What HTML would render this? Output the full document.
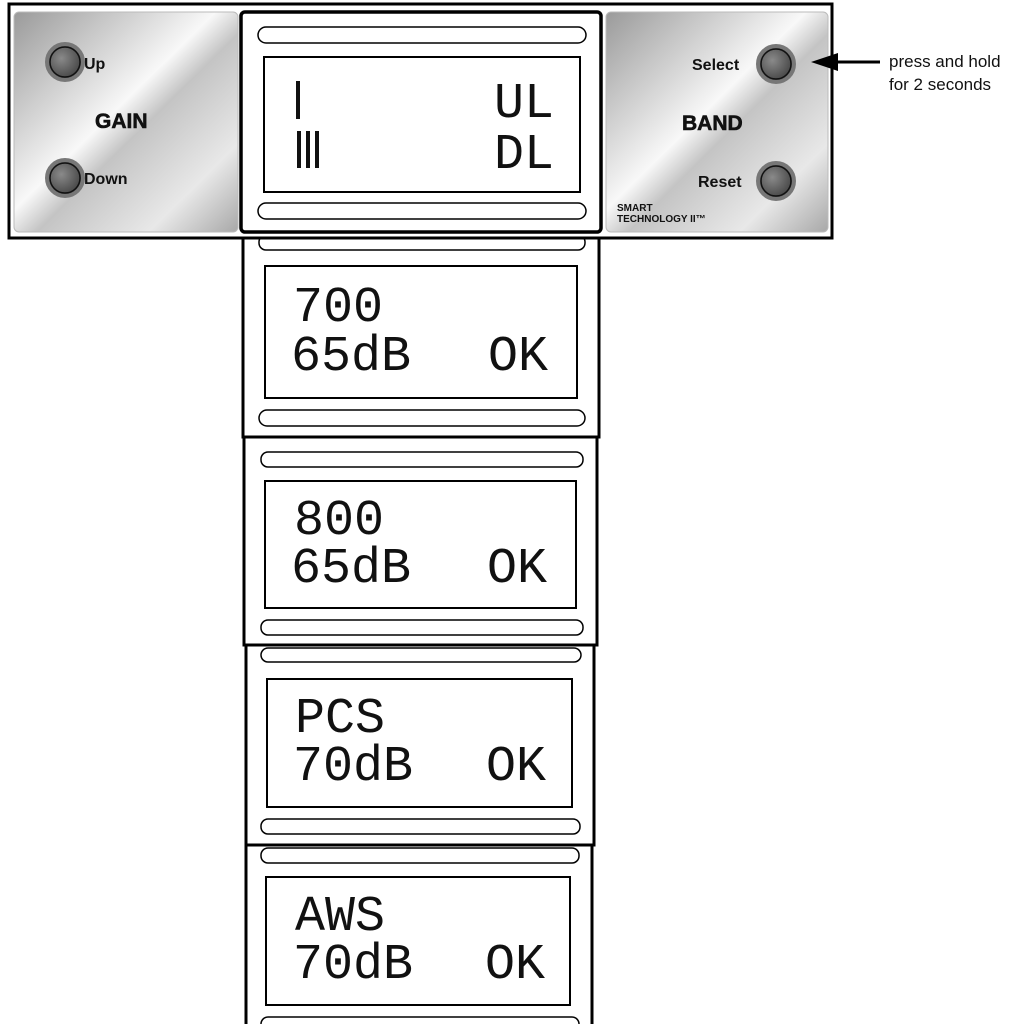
<!DOCTYPE html>
<html><head><style>
html,body{margin:0;padding:0;background:#fff;width:1024px;height:1024px;overflow:hidden}
</style></head><body>
<svg width="1024" height="1024" viewBox="0 0 1024 1024" xmlns="http://www.w3.org/2000/svg">
<defs>
<linearGradient id="met" x1="0" y1="0" x2="1" y2="1">
<stop offset="0" stop-color="#9a9a9a"/>
<stop offset="0.3" stop-color="#d8d8d8"/>
<stop offset="0.45" stop-color="#f8f8f8"/>
<stop offset="0.55" stop-color="#c4c4c4"/>
<stop offset="0.8" stop-color="#e8e8e8"/>
<stop offset="1" stop-color="#a8a8a8"/>
</linearGradient>
<radialGradient id="btn" cx="0.4" cy="0.4" r="0.6">
<stop offset="0" stop-color="#8a8a8a"/>
<stop offset="1" stop-color="#444"/>
</radialGradient>
</defs>
<g font-family="Liberation Sans, sans-serif">
<g fill="#fff" stroke="#000">
<rect x="243" y="232" width="356" height="205" stroke-width="3"/>
<rect x="244" y="437" width="353" height="208" stroke-width="3"/>
<rect x="246" y="645" width="348" height="200" stroke-width="3"/>
<rect x="246" y="845" width="346" height="190" stroke-width="3"/>
</g>
<g fill="#fff" stroke="#000" stroke-width="1.5">
<rect x="259" y="235" width="326" height="15" rx="7"/>
<rect x="265" y="266" width="312" height="132" stroke-width="2"/>
<rect x="259" y="410" width="326" height="16" rx="8"/>
<rect x="261" y="452" width="322" height="15" rx="7"/>
<rect x="265" y="481" width="311" height="127" stroke-width="2"/>
<rect x="261" y="620" width="322" height="15" rx="7"/>
<rect x="261" y="648" width="320" height="14" rx="7"/>
<rect x="267" y="679" width="305" height="128" stroke-width="2"/>
<rect x="261" y="819" width="319" height="15" rx="7"/>
<rect x="261" y="848" width="318" height="15" rx="7"/>
<rect x="266" y="877" width="304" height="128" stroke-width="2"/>
<rect x="261" y="1017" width="318" height="15" rx="7"/>
</g>
<g font-family="Liberation Mono, monospace" font-size="50" fill="#111">
<text x="293" y="321">700</text><text x="291" y="370">65dB</text><text x="488" y="370">OK</text>
<text x="294" y="534">800</text><text x="291" y="582">65dB</text><text x="487" y="582">OK</text>
<text x="295" y="732">PCS</text><text x="293" y="780">70dB</text><text x="486" y="780">OK</text>
<text x="295" y="930">AWS</text><text x="293" y="978">70dB</text><text x="485" y="978">OK</text>
</g>
<rect x="9" y="4" width="823" height="234" fill="#fff" stroke="#000" stroke-width="3"/>
<rect x="14" y="12" width="224" height="220" rx="5" fill="url(#met)" stroke="#bbb"/>
<rect x="606" y="12" width="222" height="220" rx="5" fill="url(#met)" stroke="#bbb"/>
<rect x="241" y="12" width="360" height="220" rx="4" fill="#fff" stroke="#000" stroke-width="3.5"/>
<rect x="258" y="27" width="328" height="16" rx="8" fill="#fff" stroke="#000" stroke-width="1.5"/>
<rect x="264" y="57" width="316" height="135" fill="#fff" stroke="#000" stroke-width="2"/>
<rect x="258" y="203" width="328" height="16" rx="8" fill="#fff" stroke="#000" stroke-width="1.5"/>
<g fill="#111">
<rect x="296" y="81" width="4" height="38"/>
<rect x="297" y="131" width="4" height="37"/>
<rect x="306" y="131" width="4" height="37"/>
<rect x="315" y="131" width="4" height="37"/>
</g>
<g font-family="Liberation Mono, monospace" font-size="50" fill="#111">
<text x="494" y="117">UL</text>
<text x="494" y="168">DL</text>
</g>
<g stroke="#777" stroke-width="4" fill="url(#btn)">
<circle cx="65" cy="62" r="18"/><circle cx="65" cy="178" r="18"/>
<circle cx="776" cy="64" r="18"/><circle cx="776" cy="181" r="18"/>
</g>
<g stroke="#111" stroke-width="1.5" fill="none">
<circle cx="65" cy="62" r="15"/><circle cx="65" cy="178" r="15"/>
<circle cx="776" cy="64" r="15"/><circle cx="776" cy="181" r="15"/>
</g>
<g font-weight="bold" fill="#111">
<text x="84" y="69" font-size="16">Up</text>
<text x="84" y="184" font-size="16">Down</text>
<text x="95" y="128" font-size="21" stroke="#111" stroke-width="0.6">GAIN</text>
<text x="692" y="70" font-size="16">Select</text>
<text x="698" y="187" font-size="16">Reset</text>
<text x="682" y="130" font-size="21" stroke="#111" stroke-width="0.6">BAND</text>
<text x="617" y="211" font-size="10">SMART</text>
<text x="617" y="222" font-size="10">TECHNOLOGY II™</text>
</g>
<line x1="830" y1="62" x2="880" y2="62" stroke="#000" stroke-width="3"/>
<polygon points="811,62 838,53 838,71" fill="#000"/>
<text x="889" y="67" font-size="17" fill="#111">press and hold</text>
<text x="889" y="90" font-size="17" fill="#111">for 2 seconds</text>
</g>
</svg>
</body></html>
